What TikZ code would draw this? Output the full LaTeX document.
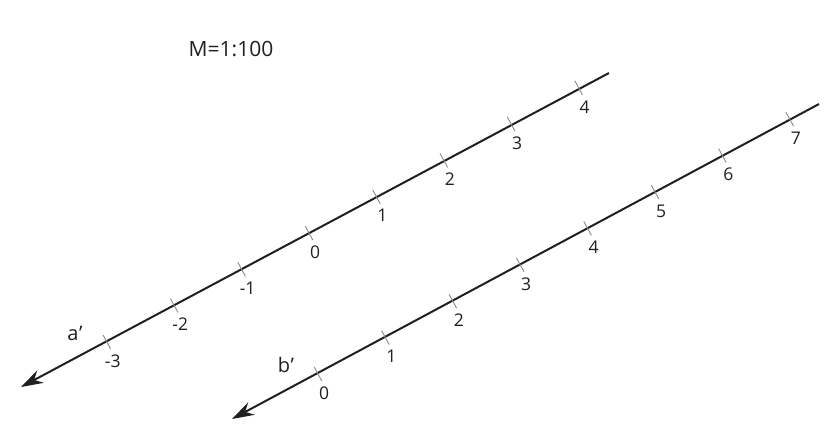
\documentclass[tikz,border=0pt]{standalone}
\usepackage{fontspec}
\setmainfont{Open Sans}
\usetikzlibrary{calc,arrows.meta}
\definecolor{ink}{HTML}{231F20}
\definecolor{tickc}{HTML}{8A8A8A}
\begin{document}
\begin{tikzpicture}[x=1pt,y=-1pt,
  axisline/.style={draw=ink,line width=2pt,-{Stealth[length=22pt,width=14pt,inset=7pt]}},
  tickmark/.style={draw=tickc,line width=0.9pt},
  lbl/.style={text=ink,font=\fontsize{17.5}{21}\selectfont,inner sep=0pt},
  lname/.style={text=ink,font=\fontsize{20}{24}\selectfont,inner sep=0pt},
  title/.style={text=ink,font=\fontsize{21}{25}\selectfont,inner sep=0pt}]
\useasboundingbox (0,0) rectangle (840,440);
\fill[white] (0,0) rectangle (840,440);
\node[title] (scale) at (231,49) {M=1:100};
% line a'
\coordinate (aend) at (609,73);
\coordinate (atip) at (21,387);
\draw[axisline] (aend) -- (atip);
\foreach \k/\n in {-3/m3,-2/m2,-1/m1,0/0,1/1,2/2,3/3,4/4}{
  \coordinate (ta\n) at ($(309,233)+\k*(67.4,-36.3)$);
  \draw[tickmark] ($(ta\n)+(-3.8,-7)$) -- ($(ta\n)+(3.8,7)$);
  \node[lbl] (la\n) at ($(ta\n)+(6,19)$) {\k};
}
\node[lname] (aname) at (75,333) {a\kern0.5pt’};
% line b'
\coordinate (bend) at (819,104);
\coordinate (btip) at (232,419);
\draw[axisline] (bend) -- (btip);
\foreach \k in {0,...,7}{
  \coordinate (tb\k) at ($(318,374)+\k*(67.4,-36.4)$);
  \draw[tickmark] ($(tb\k)+(-3.8,-7)$) -- ($(tb\k)+(3.8,7)$);
  \node[lbl] (lb\k) at ($(tb\k)+(6,19)$) {\k};
}
\node[lname] (bname) at (286,365) {b\kern0.5pt’};
\end{tikzpicture}
\end{document}
